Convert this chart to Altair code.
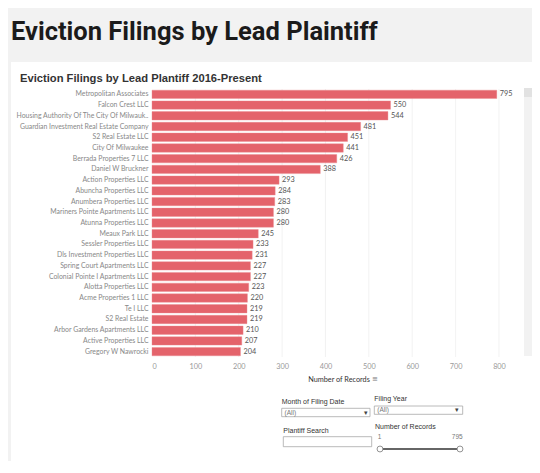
import altair as alt
import pandas as pd

# ---- data ----
plaintiffs = [
    "Metropolitan Associates",
    "Falcon Crest LLC",
    "Housing Authority Of The City Of Milwauk..",
    "Guardian Investment Real Estate Company",
    "S2 Real Estate LLC",
    "City Of Milwaukee",
    "Berrada Properties 7 LLC",
    "Daniel W Bruckner",
    "Action Properties LLC",
    "Abuncha Properties LLC",
    "Anumbera Properties LLC",
    "Mariners Pointe Apartments LLC",
    "Atunna Properties LLC",
    "Meaux Park LLC",
    "Sessler Properties LLC",
    "Dls Investment Properties LLC",
    "Spring Court Apartments LLC",
    "Colonial Pointe I Apartments LLC",
    "Alotta Properties LLC",
    "Acme Properties 1 LLC",
    "Te I LLC",
    "S2 Real Estate",
    "Arbor Gardens Apartments LLC",
    "Active Properties LLC",
    "Gregory W Nawrocki",
]
records = [795, 550, 544, 481, 451, 441, 426, 388, 293, 284, 283, 280, 280,
           245, 233, 231, 227, 227, 223, 220, 219, 219, 210, 207, 204]
tick_values = [0, 100, 200, 300, 400, 500, 600, 700, 800]
grid_values = [100, 200, 300, 400, 500, 600, 700, 800]

main_title = "Eviction Filings by Lead Plaintiff"
sheet_title = "Eviction Filings by Lead Plantiff 2016-Present"
x_title = "Number of Records"

df = pd.DataFrame({"plaintiff": plaintiffs, "records": records})
grid_df = pd.DataFrame({"tick": grid_values})
one = pd.DataFrame({"k": [0]})

W, H = 373, 268
FONT = "Lato"
BAR = "#e4636b"

xscale = alt.Scale(domain=[0, 860], nice=False, zero=True)

# ---- decorations (panel, scrollbar) ----
panel = alt.Chart(one).mark_rect(color="white").encode(
    x=alt.value(-141), x2=alt.value(400), y=alt.value(-27), y2=alt.value(400))
scroll = alt.Chart(one).mark_rect(color="#f2f2f2").encode(
    x=alt.value(372), x2=alt.value(380), y=alt.value(-1), y2=alt.value(267))
scroll_top = alt.Chart(one).mark_rect(color="#e2e2e2").encode(
    x=alt.value(372), x2=alt.value(380), y=alt.value(-1), y2=alt.value(8))

grid = alt.Chart(grid_df).mark_rule(color="#efefef", strokeWidth=0.8).encode(
    x=alt.X("tick:Q", scale=xscale), y=alt.value(0), y2=alt.value(H))

bars = alt.Chart(df).mark_bar(color=BAR, stroke="#ec8b91", strokeWidth=0.4).encode(
    y=alt.Y("plaintiff:N", sort=plaintiffs,
            scale=alt.Scale(paddingInner=0.22, paddingOuter=0.11),
            axis=alt.Axis(title=None, labelFont=FONT, labelFontSize=6.9,
                          labelColor="#888888", labelPadding=4, ticks=False,
                          domain=False, grid=False, zindex=1, labelLimit=200)),
    x=alt.X("records:Q", scale=xscale,
            axis=alt.Axis(values=tick_values, title=x_title, grid=False,
                          ticks=False, domain=False, labelFont=FONT,
                          labelFontSize=7.3, labelColor="#9a9a9a",
                          labelPadding=5, titleFont=FONT, titleFontSize=7.3,
                          titleColor="#333", titleFontWeight="normal",
                          titlePadding=6, zindex=1)),
)
labels = alt.Chart(df).mark_text(align="left", baseline="middle", dx=3,
                                 font=FONT, fontSize=7.3, color="#555").encode(
    y=alt.Y("plaintiff:N", sort=plaintiffs),
    x=alt.X("records:Q", scale=xscale),
    text="records:Q")

def txt(s, x, y, size=7, color="#333", weight="normal", align="left",
        baseline="middle", font="Liberation Sans"):
    return alt.Chart(one).mark_text(text=s, align=align, baseline=baseline,
                                    fontSize=size, color=color, fontWeight=weight,
                                    font=font).encode(x=alt.value(x), y=alt.value(y))

def box(x, x2, y, y2):
    return alt.Chart(one).mark_rect(fill="white", stroke="#a8a8a8",
                                    strokeWidth=0.8).encode(
        x=alt.value(x), x2=alt.value(x2), y=alt.value(y), y2=alt.value(y2))

t_main = txt(main_title, -141, -49, size=25.5, color="#1b1b1b", weight="bold",
             baseline="alphabetic", font="Roboto")
t_sheet = txt(sheet_title, -132, -7, size=11.2, color="#333", weight="bold",
              baseline="alphabetic", font="Liberation Sans")
sort_icon = txt("≡", 220, 289.5, size=7, color="#777", font="DejaVu Sans")

# filter widgets
w = [
    txt("Month of Filing Date", 129.7, 312.7),
    box(129.7, 218, 319.3, 327.7),
    txt("(All)", 132.5, 323.5, size=6.5, color="#777"),
    txt("▾", 213.7, 323.5, size=6.5, color="#444", align="center"),
    txt("Filing Year", 222.3, 310),
    box(222.3, 310.7, 317, 325.3),
    txt("(All)", 225.3, 321, size=6.5, color="#777"),
    txt("▾", 304.7, 321, size=6.5, color="#444", align="center"),
    txt("Plantiff Search", 131.3, 342),
    box(131.3, 219.7, 347.7, 357.7),
    txt("Number of Records", 223, 337.7),
    txt("1", 225.7, 348.3, size=6.5, color="#777"),
    txt("795", 310.7, 348.3, size=6.5, color="#777", align="right"),
    alt.Chart(one).mark_rule(color="#666", strokeWidth=2.2).encode(
        x=alt.value(228), x2=alt.value(308), y=alt.value(360)),
    alt.Chart(one).mark_point(shape="circle", size=35, filled=True, fill="white",
                              stroke="#777", strokeWidth=0.8, opacity=1).encode(
        x=alt.value(228), y=alt.value(360)),
    alt.Chart(one).mark_point(shape="circle", size=35, filled=True, fill="white",
                              stroke="#777", strokeWidth=0.8, opacity=1).encode(
        x=alt.value(308), y=alt.value(360)),
]

chart = alt.layer(panel, scroll, scroll_top, grid, bars, labels, t_main, t_sheet,
                  sort_icon, *w).properties(
    width=W, height=H,
    padding={"left": 144, "top": 81, "right": 7, "bottom": 104},
    autosize=alt.AutoSizeParams(type="none"),
).configure(background="#f2f2f2").configure_view(stroke=None)

chart.save("out.html", embed_options={"renderer": "svg", "actions": False})
